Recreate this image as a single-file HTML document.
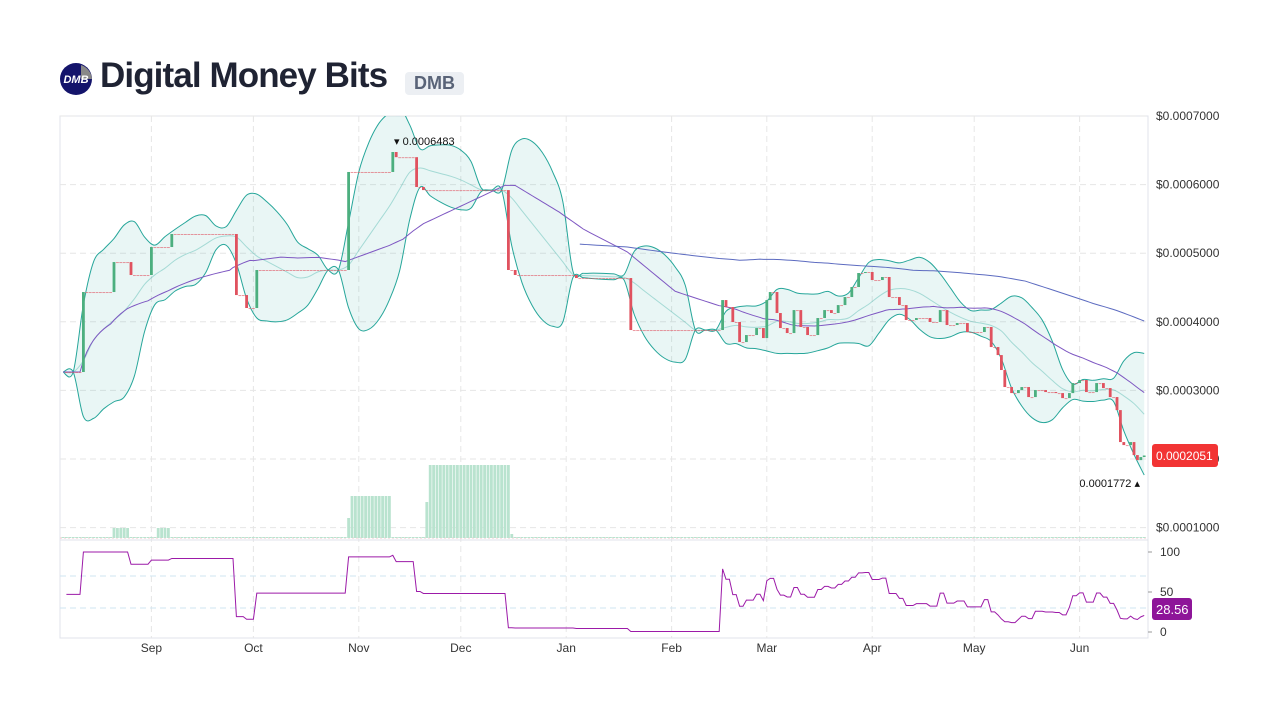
<!DOCTYPE html>
<html><head><meta charset="utf-8"><style>
body{margin:0;background:#fff;width:1280px;height:720px;overflow:hidden;font-family:"Liberation Sans",sans-serif}
#title{position:absolute;left:100px;top:56px;font-size:35px;font-weight:bold;color:#1f2333;letter-spacing:-0.9px;white-space:nowrap}
#badge{position:absolute;left:405px;top:72px;width:59px;height:23px;background:#eceff3;border-radius:4px;color:#5a6478;font-size:18px;font-weight:bold;text-align:center;line-height:23px}
</style></head><body>
<svg width="34" height="34" style="position:absolute;left:59px;top:62px" viewBox="0 0 34 34"><circle cx="17" cy="17" r="16" fill="#14146b"/><path d="M22 3 A16 16 0 0 1 33 17 L22 17Z" fill="#888"/><text x="17" y="21" text-anchor="middle" font-size="11" font-weight="bold" font-style="italic" fill="#fff" font-family="Liberation Sans">DMB</text></svg>
<div id="title">Digital Money Bits</div>
<div id="badge">DMB</div>
<svg id="chart" width="1280" height="720" style="position:absolute;left:0;top:0"></svg>
<script>
// step entries [day, close in 1e-7 units]
const stepDays=[0,6,15,20,26,32,51,54,57,84,97,98,104,106,131,133,151,167];
const stepCloses=[3268,4434,4871,4682,5090,5280,4390,4201,4755,6184,6475,6400,5965,5920,4755,4682,4638,3880];
const activeDays=[193,194,195,197,199,201,204,206,207,208,210,211,213,215,217,219,222,224,226,228,230,232,234,236,238,241,243,246,248,251,255,258,260,263,266,269,271,273,275,276,277,279,281,282,284,286,289,292,294,296,297,299,301,304,306,308,310,311,312,314,315,316,317,318];
const activeCloses=[3880,4317,4215,3997,3705,3807,3909,3763,4317,4434,4128,3909,3836,4171,3924,3807,4055,4171,4128,4244,4361,4507,4711,4726,4609,4653,4361,4244,4026,4055,3997,4171,3953,3982,3851,3851,3924,3632,3515,3297,3049,2961,3005,3049,2903,3005,2976,2961,2888,2961,3107,3151,2976,3107,3034,2903,2713,2247,2203,2247,2057,1984,2028,2051];
const volRuns=[[0,14,1],[15,19,10],[20,27,1],[28,31,10],[32,83,1],[84,84,20],[85,96,42],[97,106,1],[107,107,36],[108,131,73],[132,132,4],[133,318,1]];
const monthLabels=["Sep","Oct","Nov","Dec","Jan","Feb","Mar","Apr","May","Jun"];
const monthDays=[26,56,87,117,148,179,207,238,268,299];
const priceTicks=[7000,6000,5000,4000,3000,2000,1000];
const rsiTicks=[100,50,0];
const NS="http://www.w3.org/2000/svg",svg=document.getElementById('chart');
const L=60,R=1148,T=116,MB=538;
const x=d=>63+d*3.4, y=p=>T+(7000-p)*0.0686, ry=v=>632-v*0.8;
function el(t,a,p){const e=document.createElementNS(NS,t);for(const k in a)e.setAttribute(k,a[k]);(p||svg).appendChild(e);return e;}
const N=319,close=[];let si=0,ai=0,cur=stepCloses[0];
for(let d=0;d<N;d++){while(si<stepDays.length&&stepDays[si]<=d){cur=stepCloses[si];si++;}
 while(ai<activeDays.length&&activeDays[ai]<=d){cur=activeCloses[ai];ai++;}close.push(cur);}
const g=el('g',{});
el('rect',{x:L,y:T,width:R-L,height:522,fill:'none',stroke:'#e0e3eb'},g);
monthDays.forEach(d=>el('line',{x1:x(d),x2:x(d),y1:T,y2:638,stroke:'#e6e6e6','stroke-dasharray':'6,4'},g));
priceTicks.forEach(p=>el('line',{x1:L,x2:R,y1:y(p),y2:y(p),stroke:'#e6e6e6','stroke-dasharray':'6,4'},g));
el('line',{x1:L,x2:R,y1:540,y2:540,stroke:'#e0e3eb'},g);
el('line',{x1:L,x2:R,y1:538,y2:538,stroke:'#f4c7cc','stroke-dasharray':'2,2'},g);
[70,30].forEach(v=>el('line',{x1:L,x2:R,y1:ry(v),y2:ry(v),stroke:'#cfe5f2','stroke-dasharray':'6,4'},g));
const defs=el('defs',{});const cp=el('clipPath',{id:'mc'},defs);el('rect',{x:L,y:T,width:R-L,height:MB-T},cp);
const main=el('g',{'clip-path':'url(#mc)'});
volRuns.forEach(r=>{for(let d=r[0];d<=r[1];d++){const b=el('rect',{x:x(d)-1.4,y:MB-r[2],width:2.8,height:r[2],fill:'#b9e3cf'},main);}});
const up=[],lo=[],mid=[];
for(let i=0;i<N;i++){const w=close.slice(Math.max(0,i-19),i+1);const m=w.reduce((a,b)=>a+b,0)/w.length;const s=Math.sqrt(w.reduce((a,b)=>a+(b-m)*(b-m),0)/w.length);mid.push(m);up.push(m+2*s);lo.push(m-2*s);}
function smooth(arr,step,rev){let idx=[];for(let i=0;i<N;i+=step)idx.push(i);if(idx[idx.length-1]!=N-1)idx.push(N-1);if(rev)idx.reverse();
 const P=idx.map(i=>[x(i),y(arr[i])]);let s='';for(let i=0;i<P.length-1;i++){const p0=P[Math.max(0,i-1)],p1=P[i],p2=P[i+1],p3=P[Math.min(P.length-1,i+2)];
 if(i==0)s+=(rev?'L':'M')+p1[0]+','+p1[1];s+=`C${p1[0]+(p2[0]-p0[0])/6},${p1[1]+(p2[1]-p0[1])/6} ${p2[0]-(p3[0]-p1[0])/6},${p2[1]-(p3[1]-p1[1])/6} ${p2[0]},${p2[1]}`;}return s;}
const bf=el('path',{d:smooth(up,3,false)+smooth(lo,3,true)+'Z',fill:'rgba(38,166,154,0.1)',stroke:'none'},main);
const bu=el('path',{d:smooth(up,3,false),fill:'none',stroke:'#26a69a','stroke-width':1},main);
const bl=el('path',{d:smooth(lo,3,false),fill:'none',stroke:'#26a69a','stroke-width':1},main);
const bm=el('path',{d:smooth(mid,3,false),fill:'none',stroke:'rgba(38,166,154,0.35)','stroke-width':1},main);
function sma(n,start){let pts=[];for(let i=start;i<N;i++){const w=close.slice(Math.max(0,i-n+1),i+1);pts.push(x(i)+','+y(w.reduce((a,b)=>a+b,0)/w.length));}return pts.join(' ');}
const m1=el('polyline',{points:sma(50,0),fill:'none',stroke:'#7e57c2','stroke-width':1},main);
const m2=el('polyline',{points:sma(200,152),fill:'none',stroke:'#5c6bc0','stroke-width':1},main);
for(let d=1;d<N;d++){const o=close[d-1],c=close[d];
 const top=y(Math.max(o,c)),h=Math.max(1,Math.abs(y(o)-y(c)));
 const r=el('rect',{x:x(d)-1.4,y:top,width:2.8,height:h,fill:c>o?'#4caf7f':'#e0525f',opacity:c==o?0.6:1},main);
 }
function tx(t,a){const e=el('text',Object.assign({'font-size':12,fill:'#333','font-family':'Liberation Sans'},a));e.textContent=t;return e;}
priceTicks.forEach(p=>{const e=tx('$'+(p/1e7).toFixed(7),{x:1156,y:y(p)+4,'font-size':12});});
rsiTicks.forEach(v=>{el('line',{x1:R,x2:R+4,y1:ry(v),y2:ry(v),stroke:'#999'});const e=tx(String(v),{x:1160,y:ry(v)+4,'font-size':12});});
monthLabels.forEach((m,i)=>{const e=tx(m,{x:x(monthDays[i]),y:652,'text-anchor':'middle','font-size':12});});
const hi=tx('▾ 0.0006483',{x:394,y:145,'font-size':11,fill:'#111'});
const lw=tx('0.0001772 ▴',{x:1140,y:487,'font-size':11,fill:'#111','text-anchor':'end'});
const pl=el('rect',{x:1152,y:444,width:66,height:23,rx:3,fill:'#f23434'});
tx('0.0002051',{x:1156,y:460,fill:'#fff','font-size':12});
const rsi=[];let ag=0,al=0;for(let i=1;i<N;i++){const ch=close[i]-close[i-1],gn=Math.max(ch,0),ls=Math.max(-ch,0);
 if(i<=14){ag+=gn/14;al+=ls/14;}else{ag=(ag*13+gn)/14;al=(al*13+ls)/14;}
 rsi.push([i,al==0&&ag==0?47:100-100/(1+ag/(al||1e-9))]);}
const rl=el('polyline',{points:rsi.map(p=>x(p[0])+','+ry(p[1])).join(' '),fill:'none',stroke:'#9c1aa8','stroke-width':1});
const rb=el('rect',{x:1152,y:598,width:40,height:22,rx:3,fill:'#8e1599'});
tx('28.56',{x:1156,y:614,fill:'#fff','font-size':13});
</script>
</body></html>
